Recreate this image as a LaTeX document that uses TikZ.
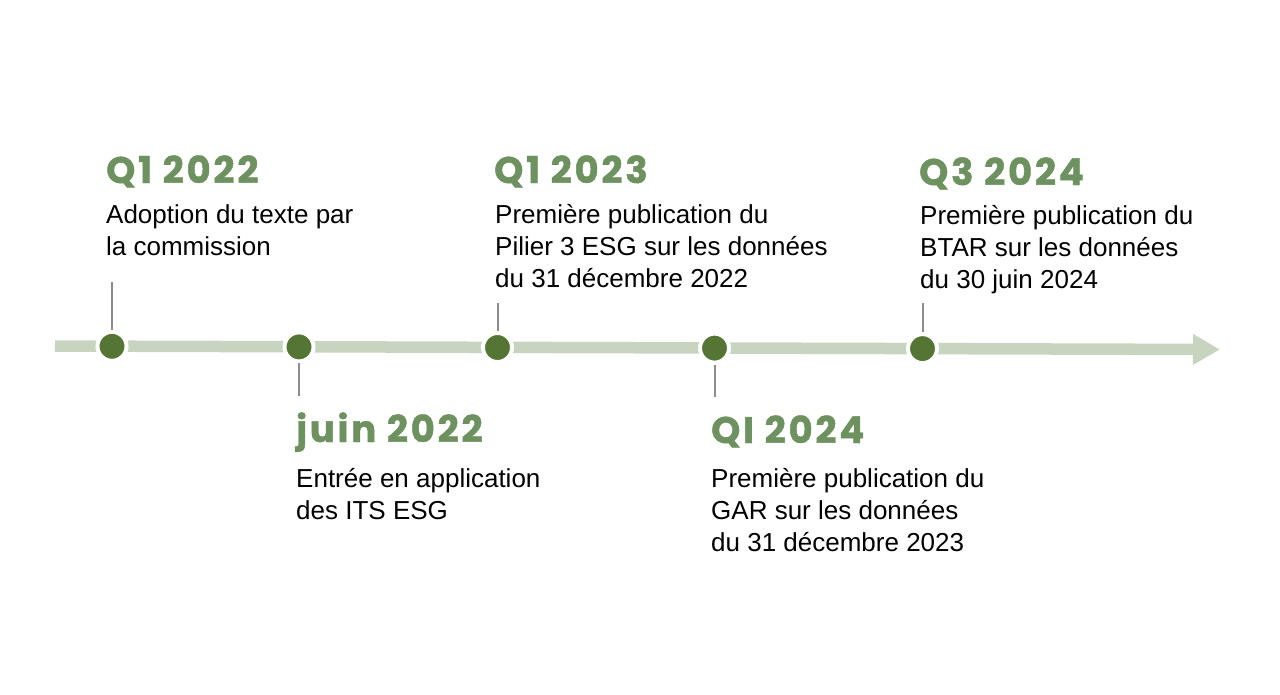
\documentclass[tikz,border=0pt]{standalone}
\usepackage{fontspec}
\setmainfont{Liberation Sans}
\newfontfamily\headfont{Poppins}[LetterSpace=7.5, BoldFeatures={FakeBold=1.2}]
\usetikzlibrary{arrows.meta}
\definecolor{headgreen}{HTML}{6E9160}
\definecolor{dotgreen}{HTML}{557535}
\definecolor{axisgreen}{HTML}{C7D5C0}
\definecolor{tickgray}{HTML}{8C8C8C}
\tikzset{
  axisline/.style={draw=axisgreen, line width=11.5pt, -{Triangle[width=29pt,length=27pt]}},
  dotnode/.style={circle, fill=dotgreen, draw=white, line width=4pt, minimum size=29pt, inner sep=0pt},
  tickline/.style={draw=tickgray, line width=2pt},
  heading/.style={anchor=base west, inner sep=0pt, text=headgreen, font=\headfont\bfseries\fontsize{37}{40}\selectfont},
  body/.style={anchor=base west, inner sep=0pt, text=black, font=\fontsize{26}{32}\selectfont},
}
\newcommand\bodylines[1]{\vtop{\baselineskip=32pt\lineskiplimit=-10pt\halign{##\hfil\cr#1\crcr}}}
\begin{document}
\begin{tikzpicture}[x=1pt,y=-1pt]
\fill[white] (0,0) rectangle (1280,694);
\useasboundingbox (0,0) rectangle (1280,694);
% axis
\coordinate (axstart) at (55,346);
\coordinate (axend) at (1220,349.5);
\draw[axisline] (axstart) -- (axend);
% dots
\node[dotnode] (d1) at (112,346.3) {};
\node[dotnode] (d2) at (299,346.9) {};
\node[dotnode] (d3) at (497.5,347.5) {};
\node[dotnode] (d4) at (714.5,348.1) {};
\node[dotnode] (d5) at (922.5,348.6) {};
% ticks
\coordinate (t1) at (112,282);
\coordinate (t2) at (299,396);
\coordinate (t3) at (497.5,303);
\coordinate (t4) at (714.5,397);
\coordinate (t5) at (922.5,303);
\draw[tickline] (d1.north) -- (t1);
\draw[tickline] (d2.south) -- (t2);
\draw[tickline] (d3.north) -- (t3);
\draw[tickline] (d4.south) -- (t4);
\draw[tickline] (d5.north) -- (t5);
% headings
\node[heading] (h1) at (106,183) {Q1 2022};
\node[heading] (h2) at (296,442) {juin 2022};
\node[heading] (h3) at (494,183) {Q1 2023};
\node[heading] (h4) at (711,443) {QI 2024};
\node[heading] (h5) at (919,185) {Q3 2024};
% bodies
\node[body] (b1) at (106,223) {\bodylines{Adoption du texte par\cr la commission}};
\node[body] (b2) at (296,487) {\bodylines{Entrée en application\cr des ITS ESG}};
\node[body] (b3) at (495,223) {\bodylines{Première publication du\cr Pilier 3 ESG sur les données\cr du 31 décembre 2022}};
\node[body] (b4) at (711,487) {\bodylines{Première publication du\cr GAR sur les données\cr du 31 décembre 2023}};
\node[body] (b5) at (920,224) {\bodylines{Première publication du\cr BTAR sur les données\cr du 30 juin 2024}};
\end{tikzpicture}
\end{document}
